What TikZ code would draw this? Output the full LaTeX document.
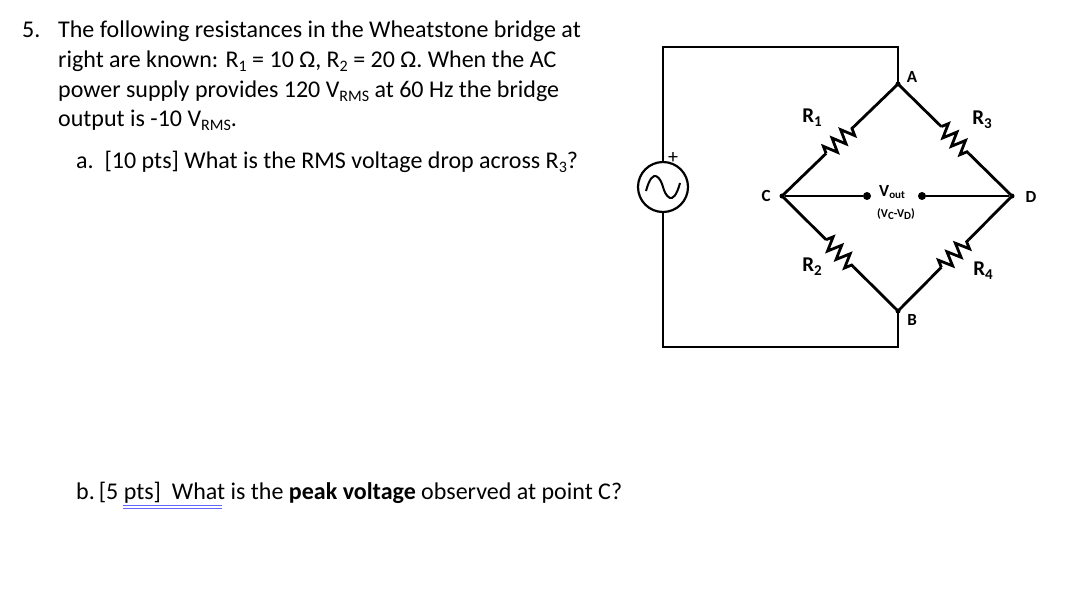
\documentclass[tikz,border=0pt]{standalone}
\usepackage{fontspec}
\setmainfont{Carlito}
\usetikzlibrary{decorations.pathmorphing,calc}
\newcommand{\lowsub}[1]{\raisebox{-0.18em}{\fontsize{16}{16}\selectfont #1}}
\newcommand{\rsub}[1]{\raisebox{-0.18em}{\fontsize{15}{15}\selectfont #1}}
\newcommand{\csub}[1]{\raisebox{-0.15em}{\fontsize{11}{11}\selectfont #1}}
\begin{document}
\begin{tikzpicture}[x=1pt,y=-1pt,
  txt/.style={anchor=base west,inner sep=0pt,font=\fontsize{24}{28}\selectfont},
  lbl/.style={inner sep=0pt,font=\fontsize{17}{17}\selectfont\bfseries},
  rl/.style={inner sep=0pt,font=\fontsize{21}{21}\selectfont\bfseries},
  wire/.style={line width=2.8pt},
  res/.style={line width=2.8pt,decorate,decoration={zigzag,segment length=12pt,amplitude=7pt}},
  dot/.style={circle,fill=black,inner sep=0pt,minimum size=8pt}]
\useasboundingbox (0,0) rectangle (1075,598);
\fill[white] (0,0) rectangle (1075,598);
% text
\node[txt] (n5) at (22,37) {5.};
\node[txt] (l1) at (58,37) {The following resistances in the Wheatstone bridge at};
\node[txt] (l2) at (58,67) {right are known: R\lowsub{1} = 10 Ω, R\lowsub{2} = 20 Ω. When the AC};
\node[txt] (l3) at (58,97) {power supply provides 120 V\lowsub{RMS} at 60 Hz the bridge};
\node[txt] (l4) at (58,126) {output is -10 V\lowsub{RMS}.};
\node[txt] (la) at (76,168) {a.\ \ [10 pts] What is the RMS voltage drop across R\lowsub{3}?};
\node[txt] (lb) at (76,499) {b.\,[5 pts]\ \ What is the \textbf{peak voltage} observed at point C?};
\draw[blue!60,line width=1pt] (123,505) -- (222,505);
\draw[blue!60,line width=1pt] (123,508) -- (222,508);
% nodes
\coordinate (A) at (898,84);
\coordinate (B) at (898,311);
\coordinate (C) at (782,196);
\coordinate (D) at (1012,196);
\coordinate (TL) at (663,47);
\coordinate (TR) at (898,47);
\coordinate (BL) at (663,347);
\coordinate (BR) at (898,347);
\node[circle,draw,line width=2.2pt,minimum size=50pt,inner sep=0pt] (S) at (663,187) {};
\draw[line width=2pt] ($(S.center)+(-17,4)$) .. controls ($(S.center)+(-10,-22)$) and ($(S.center)+(-2,-8)$) .. (S.center) .. controls ($(S.center)+(2,8)$) and ($(S.center)+(10,22)$) .. ($(S.center)+(17,-4)$);
\node[inner sep=0pt,font=\fontsize{20}{20}\selectfont] (plus) at (673,158) {+};
% wires
\draw[wire] (S.north) -- (TL) -- (TR) -- (A);
\draw[wire] (S.south) -- (BL) -- (BR) -- (B);
\foreach \p/\q/\n in {C/A/1,C/B/2,A/D/3,B/D/4}{
  \draw[wire] (\p) -- ($(\p)!0.38!(\q)$) coordinate (s\n);
  \draw[wire] ($(\p)!0.62!(\q)$) coordinate (e\n) -- (\q);
  \draw[res] (s\n) -- (e\n);
}
\node[dot,minimum size=5pt] (dA) at (A) {};
\node[dot,minimum size=5pt] (dB) at (B) {};
\node[dot,minimum size=5pt] (dC) at (C) {};
\node[dot,minimum size=5pt] (dD) at (D) {};
\node[dot] (v1) at (867,196) {};
\node[dot] (v2) at (922,196) {};
\draw[wire] (dC) -- (v1);
\draw[wire] (v2) -- (dD);
\node[lbl,anchor=west] (vout) at (879,192) {V\csub{out}};
\node[inner sep=0pt,font=\fontsize{12}{12}\selectfont\bfseries] (vcd) at (896,214) {(V\csub{C}-V\csub{D})};
\node[lbl] (lA) at (912,77) {A};
\node[lbl] (lB) at (912,320) {B};
\node[lbl] (lC) at (766,196) {C};
\node[lbl] (lD) at (1031,197) {D};
\node[rl] (r1) at (812,118) {R\rsub{1}};
\node[rl] (r3) at (982,120) {R\rsub{3}};
\node[rl] (r2) at (812,267) {R\rsub{2}};
\node[rl] (r4) at (983,271) {R\rsub{4}};
\end{tikzpicture}
\end{document}
